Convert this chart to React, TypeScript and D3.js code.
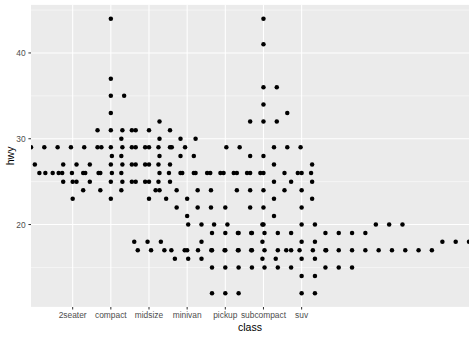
import React from "react";
import * as d3 from "d3";

// mpg dataset: highway mileage (hwy) by vehicle class
const classes = ["2seater", "compact", "midsize", "minivan", "pickup", "subcompact", "suv"];

const hwy2seater = [26, 23, 26, 25, 24];
const hwyCompact = [
  29, 29, 31, 30, 26, 26, 27, // a4
  26, 25, 28, 27, 25, 25, 25, 25, // a4 quattro
  29, 27, // altima 1999
  25, 27, 25, 27, // impreza 2008
  27, 29, 31, 31, 26, 26, 27, // camry solara
  30, 33, 35, 37, 35, // corolla
  29, 26, 29, 29, 24, // gti
  44, 29, 26, 29, 29, 29, 29, 24, 23, // jetta
];
const hwyMidsize = [
  24, 25, 23, // a6 quattro
  27, 30, 26, 29, 26, // malibu
  26, 27, 30, 31, 26, 26, 28, // sonata
  31, 32, 27, 26, // altima 2008
  26, 25, 25, // maxima
  26, 26, 27, 28, 25, // grand prix
  29, 27, 31, 31, 26, 26, 28, // camry
  29, 29, 28, 29, 26, 26, 26, // passat
];
const hwyMinivan = [24, 24, 22, 22, 24, 24, 17, 22, 21, 23, 23];
const hwyPickup = [
  19, 18, 17, 17, 19, 19, 12, 17, 15, // dakota
  16, 12, 17, 17, 16, 12, 15, 16, 17, 15, // ram 1500
  17, 17, 16, 16, 17, 15, 17, // f150
  20, 20, 22, 17, 19, 18, 20, // tacoma
];
const hwySubcompact = [
  26, 25, 26, 24, 21, 22, 23, 22, 20, // mustang
  33, 32, 32, 29, 32, 34, 36, 36, 29, // civic
  26, 29, 28, 27, 24, 24, 24, // tiburon
  26, 26, 26, 26, // impreza 1999
  44, 41, 29, 26, 28, 29, // new beetle
];
const hwySuv = [
  20, 15, 20, 17, 17, // suburban
  19, 14, 15, 17, // tahoe
  17, 17, 12, 17, 16, 18, 15, // durango
  17, 17, 18, // expedition
  17, 19, 17, 19, 19, 17, // explorer
  22, 19, 20, 17, 12, 19, 18, 14, // grand cherokee
  15, 18, 18, 15, // range rover
  17, 16, 18, // navigator
  17, 19, 19, 17, // mountaineer
  17, 17, 20, 18, // pathfinder
  25, 24, 27, 25, 26, 23, // forester
  20, 20, 19, 17, 20, 17, // 4runner
  15, 18, // land cruiser
];
const hwyByClass = [hwy2seater, hwyCompact, hwyMidsize, hwyMinivan, hwyPickup, hwySubcompact, hwySuv];

const yTicks = [20, 30, 40];
const yMinor = [15, 25, 35, 45];

// beeswarm ("swarm", priority ascending) parameters
const DSIZE = 1.63; // collision size along hwy (data units)
const GSIZE = 0.3487; // offset size along class axis (data units)

function swarm(values: number[]): number[] {
  const pts = values.map((v, i) => ({ x: v / DSIZE, y: 0, i }));
  pts.sort((a, b) => a.x - b.x || a.i - b.i);
  for (let ii = 1; ii < pts.length; ii++) {
    const xi = pts[ii].x;
    const pre = pts.slice(0, ii).filter((p) => Math.abs(xi - p.x) < 1);
    if (pre.length === 0) {
      pts[ii].y = 0;
      continue;
    }
    const offs = pre.map((p) => Math.sqrt(1 - (xi - p.x) ** 2));
    const cands = [0, ...pre.map((p, k) => p.y + offs[k]), ...pre.map((p, k) => p.y - offs[k])];
    let best = 0;
    let bestAbs = Infinity;
    for (const c of cands) {
      const bad = pre.some((p) => (xi - p.x) ** 2 + (c - p.y) ** 2 < 0.999);
      if (!bad && Math.abs(c) < bestAbs - 1e-9) {
        bestAbs = Math.abs(c);
        best = c;
      }
    }
    pts[ii].y = best;
  }
  const out = new Array(values.length).fill(0);
  pts.forEach((p) => (out[p.i] = p.y * GSIZE));
  return out;
}

type Dot = { x: number; y: number };

export default function App() {
  const W = 474;
  const H = 338;
  const left = 31;
  const right = 469;
  const top = 4.9;
  const bottom = 306.9;

  const dots: Dot[] = [];
  hwyByClass.forEach((vals, ci) => {
    const offs = swarm(vals);
    vals.forEach((v, k) => dots.push({ x: ci + 1 + offs[k], y: v }));
  });

  const xMin = Math.min(0.4, d3.min(dots, (d) => d.x) as number);
  const xMax = Math.max(classes.length + 0.6, d3.max(dots, (d) => d.x) as number);
  const x = d3.scaleLinear().domain([xMin, xMax]).range([left, right]);

  const yExt = d3.extent(dots, (d) => d.y) as [number, number];
  const pad = (yExt[1] - yExt[0]) * 0.05;
  const y = d3.scaleLinear().domain([yExt[0] - pad, yExt[1] + pad]).range([bottom, top]);

  const font = "'Liberation Sans', Arial, Helvetica, sans-serif";
  const tick = 2.6;

  return (
    <div style={{ position: "absolute", left: 0, top: 0 }}>
      <svg width={W} height={H} style={{ display: "block" }}>
        <rect x={0} y={0} width={W} height={H} fill="#FFFFFF" />
        <defs>
          <clipPath id="panel-clip">
            <rect x={left} y={top} width={right - left} height={bottom - top} />
          </clipPath>
        </defs>
        <rect x={left} y={top} width={right - left} height={bottom - top} fill="#EBEBEB" />
        {yMinor.map((t) =>
          y(t) >= top && y(t) <= bottom ? (
            <line key={"mn" + t} x1={left} x2={right} y1={y(t)} y2={y(t)} stroke="#FFFFFF" strokeWidth={0.5} />
          ) : null
        )}
        {yTicks.map((t) => (
          <line key={"mj" + t} x1={left} x2={right} y1={y(t)} y2={y(t)} stroke="#FFFFFF" strokeWidth={1.05} />
        ))}
        {classes.map((c, i) => (
          <line key={"vx" + c} x1={x(i + 1)} x2={x(i + 1)} y1={top} y2={bottom} stroke="#FFFFFF" strokeWidth={1.05} />
        ))}
        <g clipPath="url(#panel-clip)">
          {dots.map((d, i) => (
            <circle key={i} cx={x(d.x)} cy={y(d.y)} r={2.25} fill="#000000" />
          ))}
        </g>
        {yTicks.map((t) => (
          <g key={"yt" + t}>
            <line x1={left - tick} x2={left} y1={y(t)} y2={y(t)} stroke="#333333" strokeWidth={1.02} />
            <text x={25.7} y={y(t) + 3.0} textAnchor="end" fontFamily={font} fontSize={8.4} fill="#4D4D4D">
              {t}
            </text>
          </g>
        ))}
        {classes.map((c, i) => (
          <g key={"xt" + c}>
            <line x1={x(i + 1)} x2={x(i + 1)} y1={bottom} y2={bottom + tick} stroke="#333333" strokeWidth={1.02} />
            <text x={x(i + 1)} y={317.8} textAnchor="middle" fontFamily={font} fontSize={8.4} fill="#4D4D4D">
              {c}
            </text>
          </g>
        ))}
        <text x={(left + right) / 2} y={330.5} textAnchor="middle" fontFamily={font} fontSize={10.5} fill="#000000">
          class
        </text>
        <text
          transform={`translate(13.6, ${(top + bottom) / 2}) rotate(-90)`}
          textAnchor="middle"
          fontFamily={font}
          fontSize={10.5}
          fill="#000000"
        >
          hwy
        </text>
      </svg>
    </div>
  );
}
